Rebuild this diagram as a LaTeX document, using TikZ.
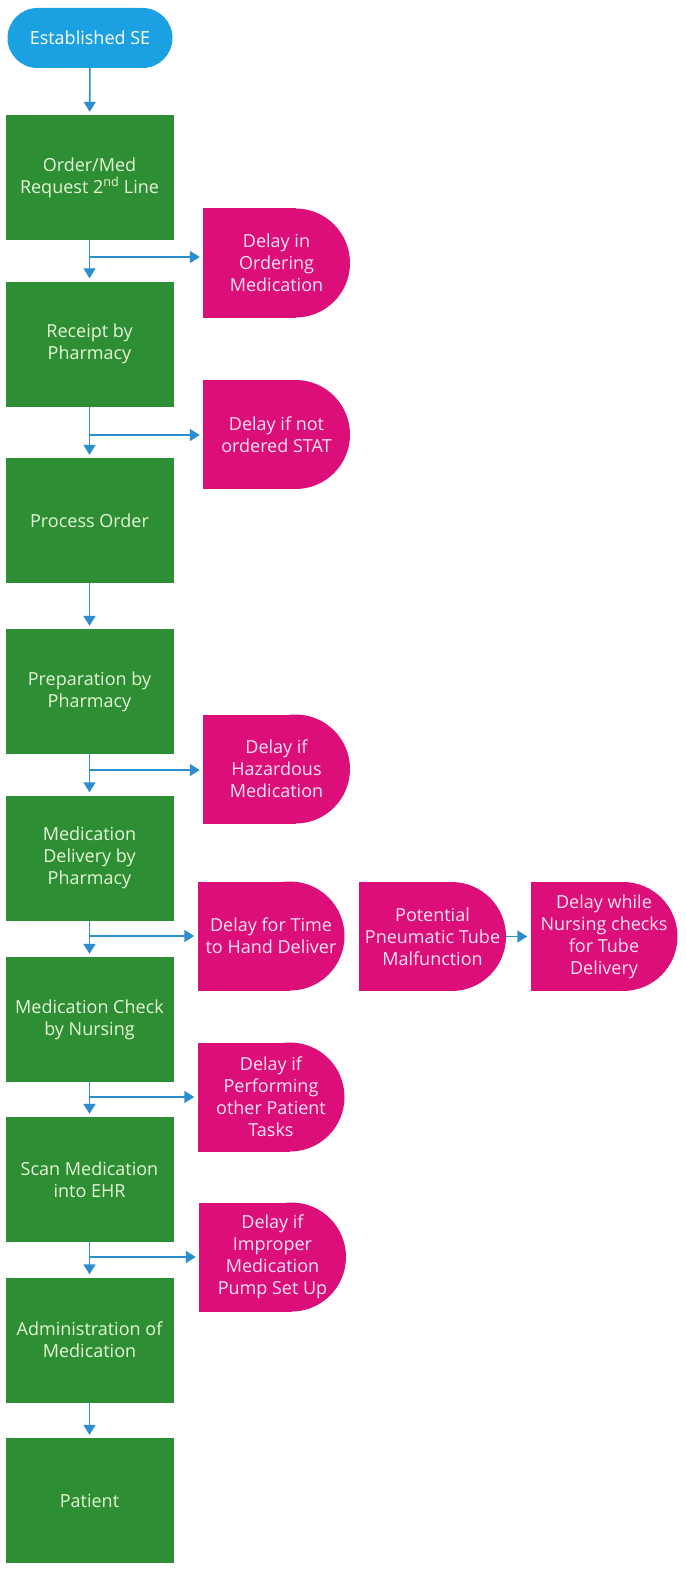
\documentclass[tikz,border=0pt]{standalone}
\usepackage{fontspec}
\setmainfont{Open Sans}
\usetikzlibrary{shapes.misc,arrows.meta}
\definecolor{stepgreen}{HTML}{2E8E34}
\definecolor{delaypink}{HTML}{DC0E7A}
\definecolor{termblue}{HTML}{1BA1E2}
\definecolor{arrowblue}{HTML}{2B8FCF}
\definecolor{txtgreen}{HTML}{E6F7D9}
\definecolor{txtpink}{HTML}{FBE3F0}
\begin{document}
\begin{tikzpicture}[x=1pt,y=-1pt,
  every node/.style={font=\fontsize{18}{22}\selectfont, align=center, inner sep=0pt},
  stepbox/.style={rectangle, fill=stepgreen, text=txtgreen, minimum width=168pt, minimum height=125pt},
  delaybox/.style={rectangle, text=txtpink, minimum width=147pt, minimum height=109pt,
    path picture={
      \fill[delaypink] (path picture bounding box.south west) rectangle ([xshift=-54.5pt]path picture bounding box.north east);
      \fill[delaypink] ([xshift=-54.5pt]path picture bounding box.east) circle (54.5pt);
    }},
  termbox/.style={rounded rectangle, fill=termblue, text=white, minimum width=165pt, minimum height=60pt},
  flow/.style={draw=arrowblue, line width=1.6pt, -{Triangle[width=12pt,length=10pt]}, shorten >=3pt}
]
\useasboundingbox (0,0) rectangle (685,1570);
\fill[white] (0,0) rectangle (685,1570);

\node[termbox] (start) at (90,38) {Established SE};
\node[stepbox] (b1) at (89.5,177.5) {Order/Med\\Request 2\textsuperscript{nd} Line};
\node[stepbox] (b2) at (89.5,344) {Receipt by\\Pharmacy};
\node[stepbox] (b3) at (89.5,520.5) {Process Order};
\node[stepbox] (b4) at (89.5,691.5) {Preparation by\\Pharmacy};
\node[stepbox] (b5) at (89.5,858) {Medication\\Delivery by\\Pharmacy};
\node[stepbox] (b6) at (89.5,1019.5) {Medication Check\\by Nursing};
\node[stepbox] (b7) at (89.5,1179.5) {Scan Medication\\into EHR};
\node[stepbox] (b8) at (89.5,1340) {Administration of\\Medication};
\node[stepbox] (b9) at (89.5,1500.5) {Patient};

\node[delaybox] (d1) at (276.5,263) {Delay in\\Ordering\\Medication};
\node[delaybox] (d2) at (276.5,434.5) {Delay if not\\ordered STAT};
\node[delaybox] (d3) at (276.5,769) {Delay if\\Hazardous\\Medication};
\node[delaybox] (d4) at (271,936) {Delay for Time\\to Hand Deliver};
\node[delaybox] (d5) at (271,1097) {Delay if\\Performing\\other Patient\\Tasks};
\node[delaybox] (d6) at (272.5,1257) {Delay if\\Improper\\Medication\\Pump Set Up};
\node[delaybox] (p) at (432.5,936.5) {Potential\\Pneumatic Tube\\Malfunction};
\node[delaybox] (w) at (604,936.5) {Delay while\\Nursing checks\\for Tube\\Delivery};

\draw[flow] (start) -- (b1);
\draw[flow] (b1) -- (b2);
\draw[flow] (b2) -- (b3);
\draw[flow] (b3) -- (b4);
\draw[flow] (b4) -- (b5);
\draw[flow] (b5) -- (b6);
\draw[flow] (b6) -- (b7);
\draw[flow] (b7) -- (b8);
\draw[flow] (b8) -- (b9);

\coordinate (j1) at (89.5,257);
\coordinate (j2) at (89.5,435);
\coordinate (j3) at (89.5,770);
\coordinate (j4) at (89.5,936);
\coordinate (j5) at (89.5,1097);
\coordinate (j6) at (89.5,1257);
\draw[flow] (j1) -- (j1 -| d1.west);
\draw[flow] (j2) -- (j2 -| d2.west);
\draw[flow] (j3) -- (j3 -| d3.west);
\draw[flow] (j4) -- (j4 -| d4.west);
\draw[flow] (j5) -- (j5 -| d5.west);
\draw[flow] (j6) -- (j6 -| d6.west);
\draw[flow] (p) -- (w);
\end{tikzpicture}
\end{document}
